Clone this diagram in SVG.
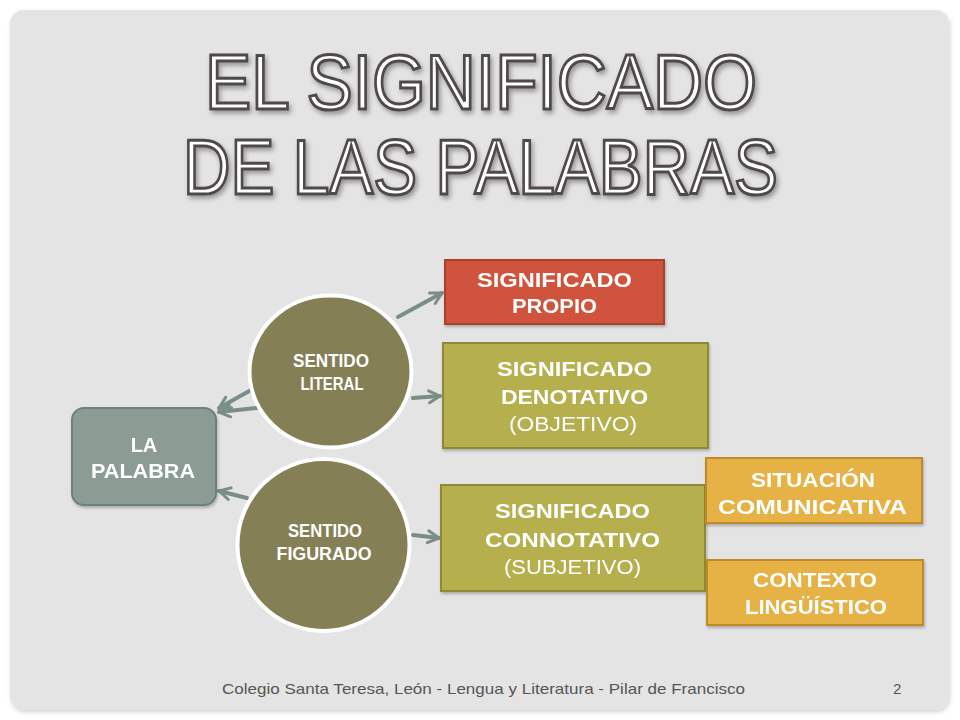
<svg xmlns="http://www.w3.org/2000/svg" width="960" height="720" viewBox="0 0 960 720">
  <defs>
    <filter id="slideShadow" x="-5%" y="-5%" width="110%" height="110%">
      <feDropShadow dx="1" dy="2" stdDeviation="2" flood-color="#000" flood-opacity="0.18"/>
    </filter>
    <filter id="titleShadow" x="-5%" y="-20%" width="110%" height="140%">
      <feDropShadow dx="2" dy="3" stdDeviation="2.5" flood-color="#000" flood-opacity="0.35"/>
    </filter>
    <filter id="boxShadow" x="-10%" y="-10%" width="120%" height="130%">
      <feDropShadow dx="1" dy="2" stdDeviation="1.5" flood-color="#000" flood-opacity="0.25"/>
    </filter>
    <marker id="head" viewBox="0 0 16 16" refX="13" refY="8" markerWidth="16" markerHeight="16" markerUnits="userSpaceOnUse" orient="auto">
      <path d="M2,2 L13,8 L2,14" fill="none" stroke="#7a8d87" stroke-width="3" stroke-linejoin="round" stroke-linecap="round"/>
    </marker>
  </defs>
  <style>
    .title { font-family: "Liberation Sans", "DejaVu Sans", sans-serif; font-size: 77px; fill: #ffffff; stroke: #4f4a4a; stroke-width: 3; }
    .lbl { font-family: "Liberation Sans", "DejaVu Sans", sans-serif; font-weight: bold; fill: #ffffff; }
    .lite { font-family: "Liberation Sans", "DejaVu Sans", sans-serif; font-weight: normal; fill: #ffffff; }
    .conn { fill: none; stroke: #7a8d87; stroke-width: 4; stroke-linecap: round; marker-end: url(#head); }
    .foot { font-family: "Liberation Sans", "DejaVu Sans", sans-serif; font-size: 15px; fill: #555555; }
  </style>

  <rect x="0" y="0" width="960" height="720" fill="#ffffff"/>
  <rect x="10" y="10" width="939" height="700" rx="14" fill="#e4e4e4" filter="url(#slideShadow)"/>

  <g id="title" filter="url(#titleShadow)">
    <text class="title" x="205" y="109" textLength="552" lengthAdjust="spacingAndGlyphs">EL SIGNIFICADO</text>
    <text class="title" x="183" y="194" textLength="595" lengthAdjust="spacingAndGlyphs">DE LAS PALABRAS</text>
  </g>

  <g id="connectors">
    <line class="conn" x1="398" y1="317" x2="442" y2="293"/>
    <line class="conn" x1="413" y1="398" x2="440" y2="396"/>
    <line class="conn" x1="251" y1="390" x2="219" y2="408"/>
    <line class="conn" x1="257" y1="408" x2="219" y2="412"/>
    <line class="conn" x1="247" y1="498" x2="219" y2="491"/>
    <line class="conn" x1="413" y1="535" x2="439" y2="538"/>
  </g>

  <g id="la-palabra" filter="url(#boxShadow)">
    <rect x="72" y="408" width="144" height="97" rx="12" fill="#8c9c95" stroke="#6f7f78" stroke-width="2"/>
    <text class="lbl" x="144" y="452" font-size="20" text-anchor="middle">LA</text>
    <text class="lbl" x="143" y="478" font-size="20" text-anchor="middle" textLength="104" lengthAdjust="spacingAndGlyphs">PALABRA</text>
  </g>

  <g id="sentido-literal">
    <ellipse cx="330.5" cy="371.5" rx="81" ry="76" fill="#857f55" stroke="#ffffff" stroke-width="4"/>
    <text class="lbl" x="331" y="367" font-size="18" text-anchor="middle" textLength="76" lengthAdjust="spacingAndGlyphs">SENTIDO</text>
    <text class="lbl" x="332" y="390" font-size="18" text-anchor="middle" textLength="63" lengthAdjust="spacingAndGlyphs">LITERAL</text>
  </g>

  <g id="sentido-figurado">
    <ellipse cx="323.5" cy="545" rx="86" ry="86" fill="#857f55" stroke="#ffffff" stroke-width="4"/>
    <text class="lbl" x="325" y="537" font-size="18" text-anchor="middle" textLength="74" lengthAdjust="spacingAndGlyphs">SENTIDO</text>
    <text class="lbl" x="324" y="560" font-size="18" text-anchor="middle" textLength="95" lengthAdjust="spacingAndGlyphs">FIGURADO</text>
  </g>

  <g id="significado-propio" filter="url(#boxShadow)">
    <rect x="445" y="260" width="219" height="64" fill="#d0533c" stroke="#a8402c" stroke-width="2"/>
    <text class="lbl" x="554.5" y="287" font-size="20" text-anchor="middle" textLength="155" lengthAdjust="spacingAndGlyphs">SIGNIFICADO</text>
    <text class="lbl" x="554.5" y="313" font-size="20" text-anchor="middle" textLength="85" lengthAdjust="spacingAndGlyphs">PROPIO</text>
  </g>

  <g id="significado-denotativo" filter="url(#boxShadow)">
    <rect x="443" y="343" width="265" height="105" fill="#b5af4e" stroke="#8f8a36" stroke-width="2"/>
    <text class="lbl" x="574.5" y="376" font-size="20" text-anchor="middle" textLength="155" lengthAdjust="spacingAndGlyphs">SIGNIFICADO</text>
    <text class="lbl" x="574.5" y="404" font-size="20" text-anchor="middle" textLength="147" lengthAdjust="spacingAndGlyphs">DENOTATIVO</text>
    <text class="lite" x="573" y="431" font-size="20" text-anchor="middle" textLength="128" lengthAdjust="spacingAndGlyphs">(OBJETIVO)</text>
  </g>

  <g id="significado-connotativo" filter="url(#boxShadow)">
    <rect x="441" y="485" width="264" height="106" fill="#b5af4e" stroke="#8f8a36" stroke-width="2"/>
    <text class="lbl" x="572.5" y="518" font-size="20" text-anchor="middle" textLength="155" lengthAdjust="spacingAndGlyphs">SIGNIFICADO</text>
    <text class="lbl" x="572.5" y="547" font-size="20" text-anchor="middle" textLength="175" lengthAdjust="spacingAndGlyphs">CONNOTATIVO</text>
    <text class="lite" x="572.5" y="574" font-size="20" text-anchor="middle" textLength="137" lengthAdjust="spacingAndGlyphs">(SUBJETIVO)</text>
  </g>

  <g id="situacion-comunicativa" filter="url(#boxShadow)">
    <rect x="706" y="458" width="216" height="65" fill="#e6b144" stroke="#c08b25" stroke-width="2"/>
    <text class="lbl" x="813" y="487" font-size="20" text-anchor="middle" textLength="124" lengthAdjust="spacingAndGlyphs">SITUACIÓN</text>
    <text class="lbl" x="812.5" y="514" font-size="20" text-anchor="middle" textLength="189" lengthAdjust="spacingAndGlyphs">COMUNICATIVA</text>
  </g>

  <g id="contexto-linguistico" filter="url(#boxShadow)">
    <rect x="707" y="560" width="216" height="65" fill="#e6b144" stroke="#c08b25" stroke-width="2"/>
    <text class="lbl" x="815" y="587" font-size="20" text-anchor="middle" textLength="124" lengthAdjust="spacingAndGlyphs">CONTEXTO</text>
    <text class="lbl" x="816" y="614" font-size="20" text-anchor="middle" textLength="142" lengthAdjust="spacingAndGlyphs">LINGÜÍSTICO</text>
  </g>

  <g id="footer">
    <text class="foot" x="222" y="694" textLength="523" lengthAdjust="spacingAndGlyphs">Colegio Santa Teresa, León - Lengua y Literatura - Pilar de Francisco</text>
    <text class="foot" x="893" y="694">2</text>
  </g>
</svg>
